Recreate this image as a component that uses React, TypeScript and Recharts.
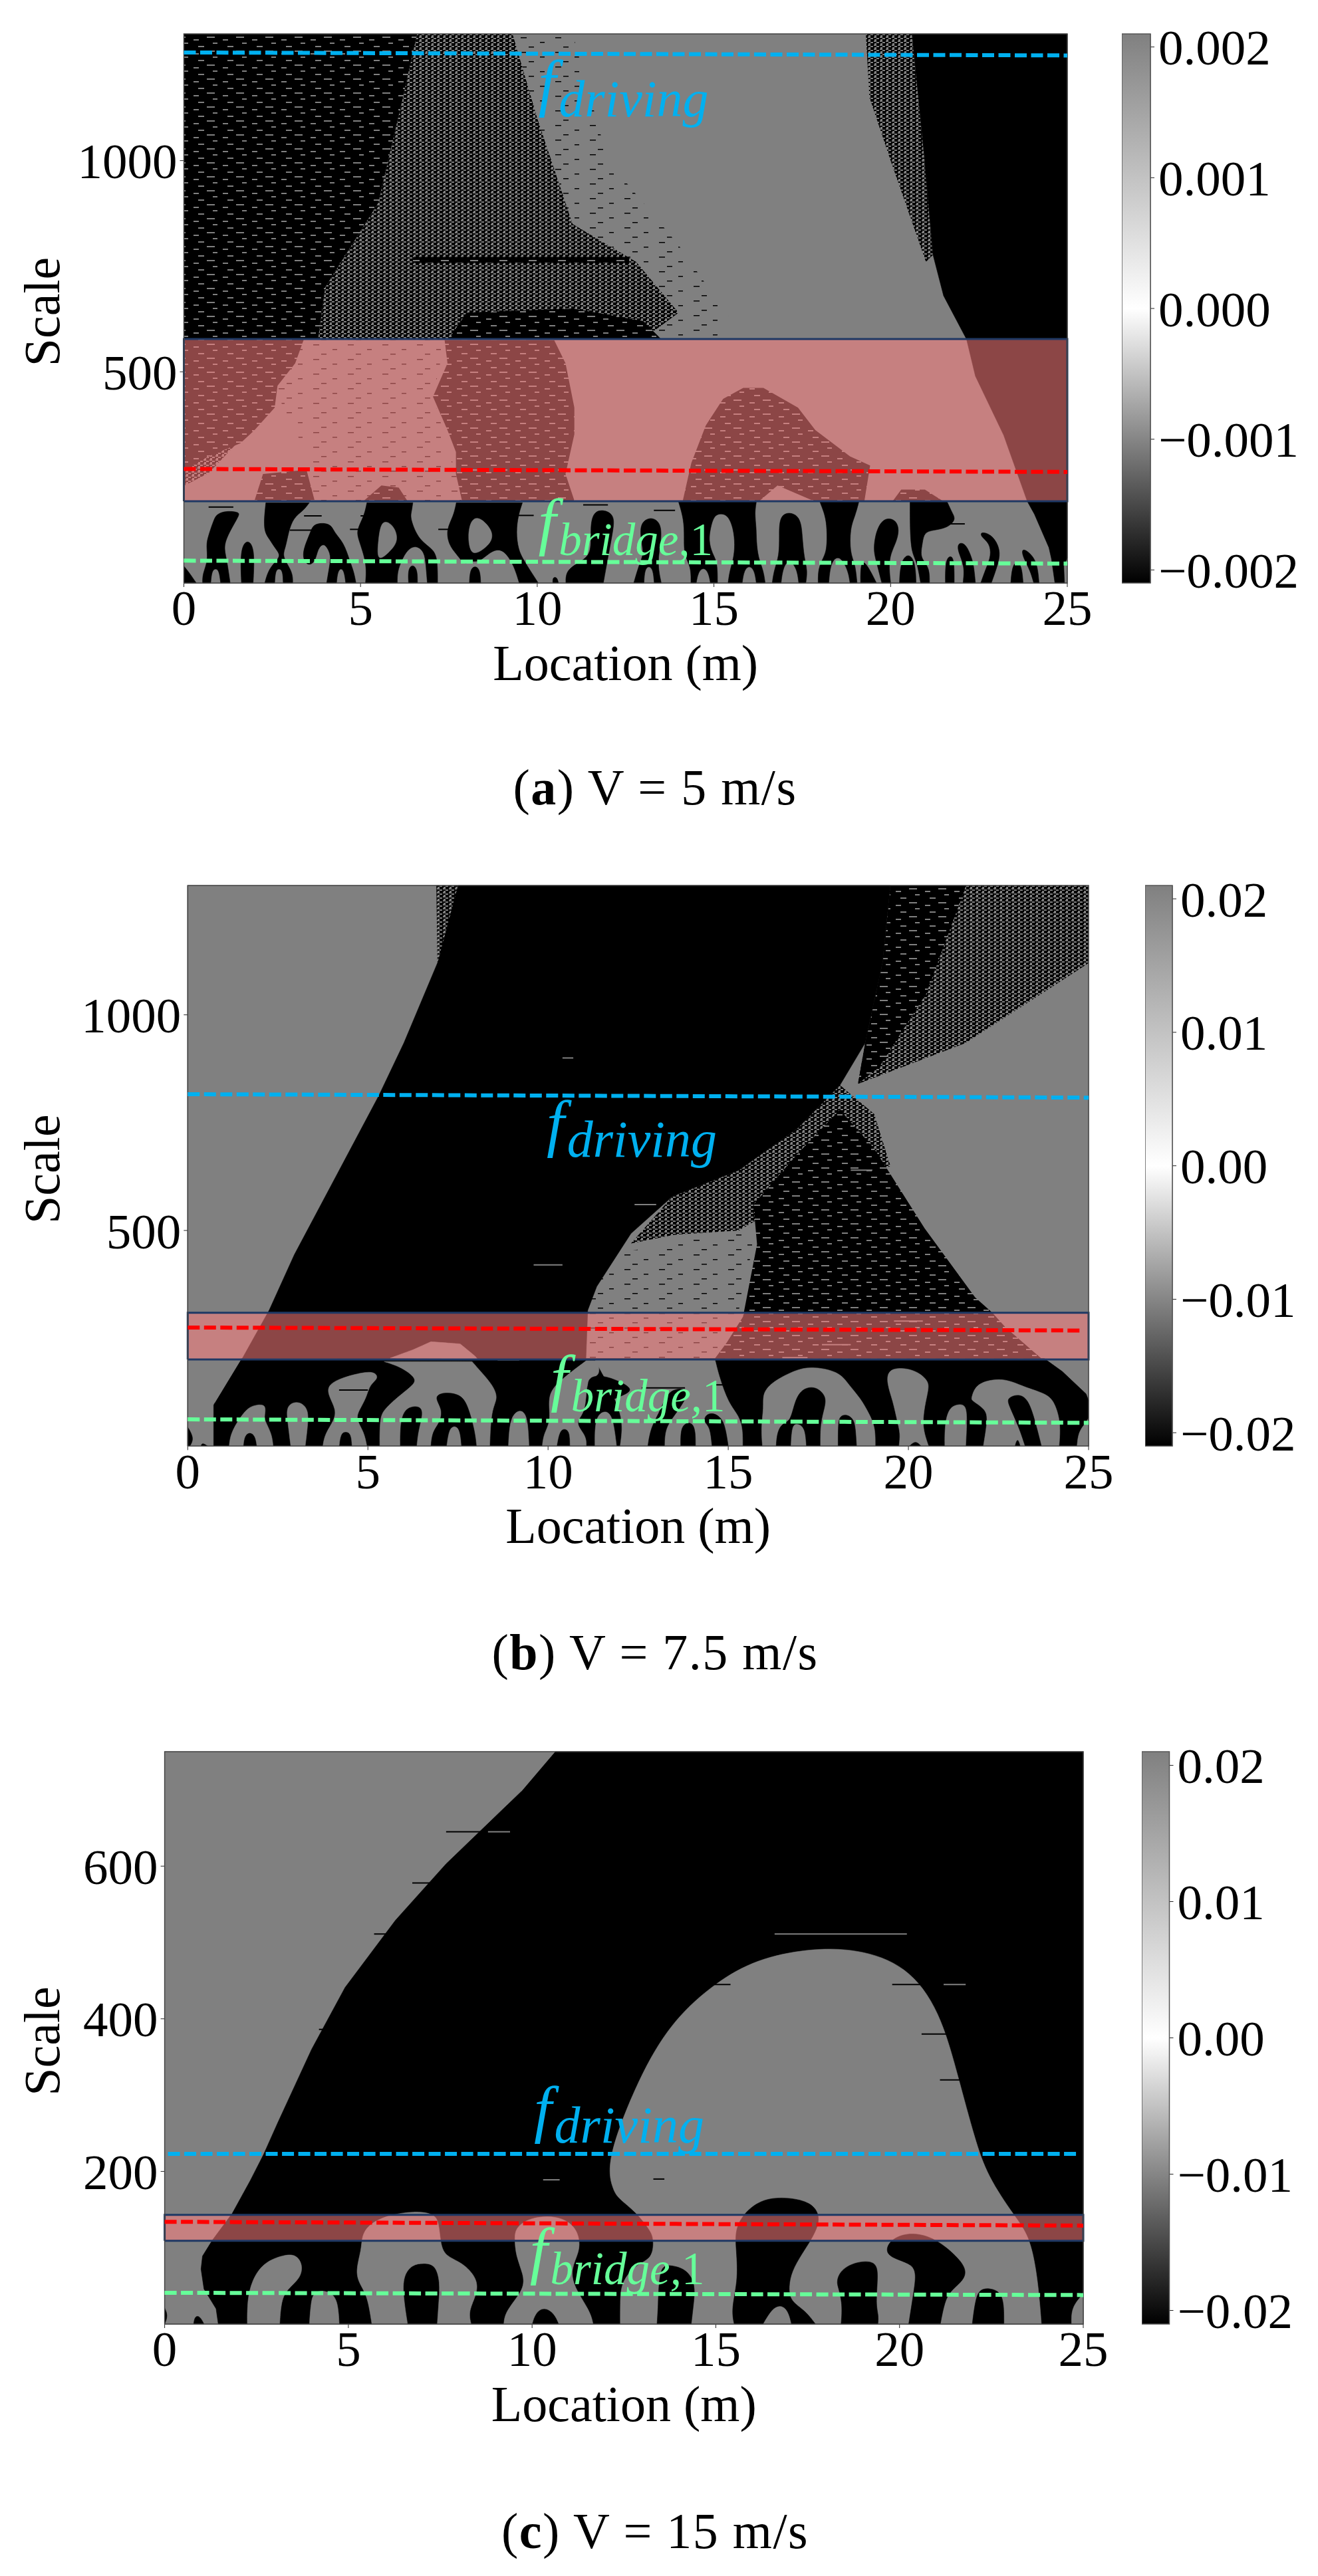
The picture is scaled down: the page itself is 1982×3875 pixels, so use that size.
import {
  ComposedChart, Scatter, XAxis, YAxis,
} from 'recharts';

type Pt = [number, number];
type Streak = [number, number, number]; // from location, to location, scale

const LOCATION_TICKS = [0, 5, 10, 15, 20, 25];
const SCALE_TICKS_AB = [500, 1000];
const SCALE_TICKS_C = [200, 400, 600];
const BAR_TICKS_A = [-0.002, -0.001, 0, 0.001, 0.002];
const BAR_TICKS_BC = [-0.02, -0.01, 0, 0.01, 0.02];

// ---- panel (a) V = 5 m/s, outlines as [location, scale]
const A_LIGHT: Pt[][] = [
  [[9.3,1300],[11,1300],[12,1000],[14,800],[15.5,620],[15,578],[13,578],[14,640],[12.8,760],[11,850],[10,1100]],
  [[3.4,578],[7.4,578],[7.05,441],[7.7,258],[7.87,195],[2,195],[3.7,268],[2.5,470]],
];
const A_MID: Pt[][] = [
  [[6.6,1300],[9.3,1300],[10,1100],[11,850],[12.8,760],[14,640],[13,578],[3.8,578],[4,700],[5.5,900],[6.2,1150]],
  [[19.3,1300],[20.6,1300],[20.96,1000],[21.2,777],[21,760],[20,1000],[19.4,1150]],
  [[0,420],[1.5,331],[0.7,260],[0,230]],
];
const A_DARK: Pt[][] = [
  [[0,1300],[6.6,1300],[6.2,1150],[5.5,900],[4,700],[3.8,578],[0,578]],
  [[7.5,578],[8,640],[11,650],[13,620],[13.5,578]],
  [[6.5,772],[12.6,772],[12.6,758],[6.5,758]],
  [[0,578],[3.4,578],[3.15,520],[2.65,467],[2.57,415],[2,362],[1.6,331],[0.7,300],[0,268]],
  [[7.38,575],[10.48,575],[10.8,520],[11.05,415],[11.05,352],[10.8,258],[11.05,195],[7.87,195],[7.7,258],[7.7,310],[7.46,362],[7.05,441],[7.46,520]],
  [[2.24,258],[3.47,268],[3.7,195],[2,195]],
  [[5.59,231],[6.08,226],[6.32,195],[5.1,195]],
  [[15.83,462],[16.4,462],[17.38,415],[17.87,362],[18.85,300],[19.42,278],[19.26,195],[17.8,195],[16.8,231],[16.3,195],[14.12,195],[14.36,284],[14.77,373],[15.26,436]],
  [[20.3,221],[20.97,221],[21.46,195],[20.07,195]],
];
const A_BLACK: Pt[][] = [
  [[0,40],[0.15,25],[0.35,0],[0,0]],
  [[0.94,163],[1.18,171],[1.59,168],[1.55,158],[1.18,105],[1.14,79],[1.22,53],[1.31,0],[1.04,0],[1,29],[0.9,35],[0.79,29],[0.76,0],[0.53,0],[0.53,22],[0.69,53],[0.63,90],[0.69,111],[0.86,153]],
  [[1.63,0],[1.59,79],[1.79,105],[2.01,84],[1.96,0]],
  [[2.32,190],[3.55,190],[3.38,171],[3.1,155],[2.96,121],[2.88,84],[2.77,63],[3.08,27],[3.08,0],[2.81,0],[2.8,29],[2.69,35],[2.59,29],[2.57,0],[2.29,0],[2.41,37],[2.77,63],[2.61,79],[2.41,105],[2.24,126]],
  [[3.67,142],[4.16,142],[4.24,121],[4.53,95],[4.69,53],[4.81,27],[4.87,0],[4.58,0],[4.54,27],[4.45,36],[4.35,27],[4.32,0],[4.04,0],[4.14,48],[4.16,69],[3.96,98],[3.78,79],[3.73,53],[3.55,40],[3.38,53],[3.37,79],[3.59,121]],
  [[5.18,190],[6.48,190],[6.44,168],[6.4,153],[6.65,100],[7.1,79],[7.18,48],[7.18,0],[6.89,0],[6.85,42],[6.81,74],[6.57,90],[6.32,79],[6.16,53],[6.04,27],[6.04,0],[5.14,0],[5.18,48],[4.93,105],[4.89,126],[5.1,158]],
  [[7.71,190],[9.58,190],[9.46,160],[9.4,121],[9.46,79],[9.62,53],[10.03,0],[9.49,0],[9.34,42],[9.09,74],[8.89,80],[8.69,74],[8.44,56],[8.28,50],[8.08,53],[7.95,42],[7.71,69],[7.5,90],[7.42,126],[7.63,158]],
  [[8.08,0],[8.1,32],[8.24,41],[8.38,32],[8.4,0]],
  [[11.58,178],[12.2,168],[12.15,126],[12.03,74],[11.87,0],[10.81,0],[10.81,32],[11.3,53],[11.54,74],[11.5,126]],
  [[10.44,0],[10.44,14],[10.56,14],[10.6,0]],
  [[12.9,142],[13.22,158],[13.51,142],[13.51,100],[13.39,48],[13.51,0],[13.31,0],[13.28,32],[13.16,41],[13.04,32],[13.02,0],[12.73,0],[12.9,48],[13.02,69],[12.94,100]],
  [[14.0,192],[16.2,192],[16.15,165],[16.2,130],[16.2,100],[16.25,60],[16.4,30],[16.45,0],[16.2,0],[16.15,30],[16.0,42],[15.85,30],[15.8,0],[15.4,0],[15.45,30],[15.55,55],[15.6,90],[15.55,130],[15.4,160],[15.2,165],[15.0,160],[14.9,130],[14.85,100],[14.95,70],[15.1,50],[15.1,0],[14.9,0],[14.85,25],[14.7,38],[14.55,25],[14.5,0],[14.35,0],[14.35,40],[14.15,65],[14.16,110],[14.15,150]],
  [[16.85,170],[17.45,165],[17.5,110],[17.55,60],[17.65,30],[17.6,0],[17.4,0],[17.35,35],[17.12,58],[16.95,35],[16.9,0],[16.65,0],[16.7,30],[16.85,65],[16.85,110]],
  [[18.0,192],[19.1,192],[19.0,160],[18.85,130],[18.85,70],[19.0,45],[19.05,0],[18.85,0],[18.8,30],[18.55,68],[18.3,50],[18.25,0],[17.95,0],[17.95,35],[18.1,60],[18.2,80],[18.2,130],[18.15,160]],
  [[19.15,0],[19.15,50],[19.3,50],[19.6,0]],
  [[19.85,155],[20.15,150],[20.25,125],[20.15,95],[20.0,70],[19.95,40],[20.0,0],[19.75,0],[19.6,50],[19.52,75],[19.55,105],[19.65,135]],
  [[20.25,0],[20.28,50],[20.5,72],[20.7,50],[20.72,0]],
  [[20.55,192],[21.6,192],[21.75,165],[21.85,150],[21.6,130],[21.2,125],[20.95,120],[20.9,95],[20.85,70],[20.9,55],[21.1,35],[21.1,0],[20.85,0],[20.75,50],[20.6,70],[20.55,120]],
  [[21.55,0],[21.55,55],[21.7,66],[21.8,55],[21.8,0]],
  [[21.9,95],[22.1,95],[22.25,70],[22.35,45],[22.4,0],[22.05,0],[22.1,40],[21.9,75]],
  [[22.55,122],[22.85,115],[23.05,90],[23.1,65],[23,35],[22.85,0],[22.55,0],[22.7,35],[22.85,65],[22.8,95],[22.55,110]],
  [[23.7,82],[23.9,75],[24.15,50],[24.2,0],[24.05,0],[23.95,30],[23.75,60]],
  [[23.4,0],[23.45,50],[23.7,50],[23.75,0]],
];
const A_BLACK_RIGHT: Pt[][] = [
  [[20.6,1300],[25,1300],[25,60],[24.9,40],[24.92,0],[24.65,0],[24.55,58],[24.48,84],[24.07,163],[23.87,193],[23.2,350],[22.4,490],[22.15,577],[21.5,680],[21.2,777],[20.96,1000]],
];
const A_GRAY_OVER: Pt[][] = [
  [[5.59,153],[5.95,137],[6.08,100],[5.83,74],[5.46,48],[5.5,100]],
  [[8.36,158],[8.73,126],[8.73,100],[8.48,79],[8.12,63],[8.03,111],[8.12,150]],
];
const A_BLACK_OVER: Pt[][] = [
  [[6.36,0],[6.34,32],[6.47,45],[6.61,32],[6.61,0]],
];
const A_STREAK_BLACK: Streak[] = [
  [3.4,3.9,159],[5,5.5,159],[9.4,9.9,160],[7.2,7.7,127],[4.7,5.2,127],[3,3.7,125],[0.7,1.4,180],[11.3,12,185],[13.3,13.9,172],[21.5,22.1,140],
];
const A_BAND: Pt = [193.6, 577.6];
const A_DRIVING: Pt[] = [[0,1256],[25,1249]];
const A_MODE: Pt[] = [[0,270],[25,263]];
const A_BRIDGE: Pt[] = [[0,53],[25,46]];

// ---- panel (b) V = 7.5 m/s
const B_LIGHT: Pt[][] = [
  [[11.5,440],[15.3,500],[15.7,470],[15,203],[11.1,203],[11.1,315]],
];
const B_MID: Pt[][] = [
  [[19.5,1300],[25,1300],[25,1120],[21.6,935],[18.6,840],[18.8,935],[19.28,1120]],
  [[6.9,1300],[8.4,1300],[7.6,1150],[7.0,1050],[6.93,1120]],
  [[13.45,579],[15.3,640],[16.95,739],[18.1,837],[19.05,770],[19.5,650],[18.5,600],[16.5,560],[15.3,500],[13.5,490],[12.3,470]],
];
const B_DARK: Pt[][] = [
  [[19.5,1300],[21.6,1300],[20.5,1050],[19.2,880],[18.6,840],[18.8,935],[19.28,1120]],
  [[18.1,780],[19.05,690],[20.45,505],[21.85,345],[22.33,309],[22.7,275],[23.69,203],[14.63,203],[14.96,240],[15.41,300],[15.8,468],[15.7,560],[16.95,680]],
];
const B_BLACK: Pt[][] = [
  [[7.5,1300],[19.5,1300],[19.28,1120],[18.8,935],[18.1,837],[16.95,739],[15.3,640],[13.45,579],[12.3,493],[11.35,370],[11.1,315],[11.05,203],[1.52,204],[2.26,315],[2.96,444],[4.13,628],[5.3,812],[6,935],[6.93,1120]],
  [[1.5,203],[23.77,203],[24.27,173],[24.93,121],[25,106],[25,0],[0.72,0],[0.72,95],[0.75,100]],
];
const B_GRAY_OVER: Pt[][] = [
  [[5.62,204],[6.27,224],[6.75,242],[7.56,237],[7.97,209],[8.05,201]],
  [[1.15,0],[1.19,29],[1.44,65],[1.68,90],[1.92,96],[2.18,96],[2.13,70],[2.13,60],[2.33,29],[2.37,0],[1.92,0],[1.88,24],[1.72,34],[1.57,24],[1.54,0]],
  [[2.86,0],[2.78,54],[2.73,90],[2.94,103],[3.18,100],[3.34,83],[3.34,54],[3.26,0]],
  [[3.75,0],[3.81,29],[4.07,60],[4.12,85],[3.91,116],[3.87,142],[4.32,160],[4.97,173],[5.21,170],[5.29,157],[5.05,142],[4.97,116],[4.81,90],[4.64,65],[4.89,34],[4.97,0],[4.56,0],[4.54,29],[4.38,35],[4.24,29],[4.2,0]],
  [[5.33,0],[5.33,65],[5.45,85],[5.86,116],[6.27,142],[6.35,157],[5.94,183],[5.45,196],[7.89,196],[8.13,173],[8.46,142],[8.62,111],[8.42,85],[8.38,0]],
  [[8.9,0],[8.94,65],[9.19,86],[9.43,75],[9.47,0]],
  [[9.84,0],[9.88,29],[10.1,60],[9.96,121],[10.4,157],[11.06,198],[11.38,198],[11.46,162],[11.1,157],[11.06,121],[11.01,75],[10.73,54],[11.06,24],[11.06,0],[10.61,0],[10.61,34],[10.45,42],[10.31,34],[10.24,0]],
  [[11.3,0],[11.3,65],[11.54,83],[11.79,75],[11.9,0]],
  [[12.0,0],[12.1,60],[11.8,120],[11.6,155],[11.46,175],[11.3,201],[14.63,201],[14.75,160],[15,100],[15.3,70],[15.4,40],[15.4,0]],
  [[15.95,0],[15.91,44],[15.99,90],[15.95,121],[16.19,147],[16.77,173],[17.27,186],[18.09,173],[18.34,142],[18.67,111],[18.91,75],[19.08,44],[19.08,0]],
  [[19.41,183],[20.15,180],[20.56,152],[20.56,132],[20.44,90],[20.4,54],[20.44,29],[20.56,0],[19.74,0],[19.78,29],[19.7,54],[19.57,106],[19.41,142]],
  [[21.01,0],[21.01,54],[21.14,90],[21.38,97],[21.59,96],[21.63,65],[21.59,0]],
  [[21.75,111],[21.84,137],[22.13,152],[22.7,157],[23.2,137],[23.85,121],[24.06,101],[24.23,54],[24.18,0],[22.08,0],[22.2,60],[22.16,85],[21.75,106]],
  [[24.68,0],[24.72,34],[24.93,54],[25,65],[25,0]],
];
const B_BLACK_OVER: Pt[][] = [
  [[0,44],[0.18,18],[0.06,0],[0,0]],
  [[0.4,8],[0.55,0],[0.37,0]],
  [[5.9,0],[5.9,54],[6.02,85],[6.27,93],[6.49,90],[6.51,70],[6.39,34],[6.35,0]],
  [[7.08,125],[7.56,121],[7.77,96],[7.97,34],[8.01,0],[7.6,0],[7.56,39],[7.4,49],[7.24,39],[7.18,0],[6.75,0],[6.79,34],[7,54],[7.08,85],[6.83,114]],
  [[11.1,160],[11.5,165],[12,150],[12.4,130],[12.0,115],[11.7,105],[11.45,100],[11.1,130]],
  [[12.77,0],[12.85,44],[13.14,85],[13.34,132],[13.87,135],[13.83,106],[13.39,60],[13.24,34],[13.23,0]],
  [[13.68,0],[13.68,39],[13.81,54],[14.01,54],[14.09,34],[14.09,0]],
  [[14.34,70],[14.55,79],[14.84,65],[14.94,34],[15,0],[14.55,0],[14.5,44],[14.34,54]],
  [[16.33,0],[16.36,34],[16.52,54],[16.73,57],[16.85,106],[17.06,134],[17.43,139],[17.72,116],[17.68,90],[17.55,54],[17.55,0],[17.17,0],[17.14,39],[16.98,52],[16.81,52],[16.75,34],[16.73,0]],
  [[18.05,0],[18.05,49],[18.09,70],[18.29,74],[18.5,62],[18.54,29],[18.56,0]],
  [[20.03,0],[20.2,13],[20.35,0]],
  [[22.74,111],[23.03,121],[23.32,111],[23.53,54],[23.69,0],[23.24,0],[23.07,44],[22.78,96]],
  [[22.96,0],[23.03,20],[23.1,0]],
];
const B_STREAK_BLACK: Streak[] = [
  [5.5,6.2,600],[4.6,5.3,690],[3.6,4.2,510],[2.9,3.5,390],[5.9,6.6,880],[6.5,7.1,1010],[7.2,7.8,1210],[8,9,1280],
  [12.6,13.8,135],[14.6,15.1,142],[4.2,5,130],[9.3,10,130],[14.8,15.4,160],
];
const B_STREAK_GRAY: Streak[] = [
  [9.6,10.4,420],[12.4,13,560],[8.6,9.2,200],[16.5,17.2,205],[17.6,18.4,235],[19.6,20.4,290],[10.4,10.7,900],[18.4,19,640],
];
const B_BAND: Pt = [201, 309];
const B_DRIVING: Pt[] = [[0,816],[25,808]];
const B_MODE: Pt[] = [[0,275],[24.8,268]];
const B_BRIDGE: Pt[] = [[0,62],[25,54]];

// ---- panel (c) V = 15 m/s
const C_BLACK: Pt[][] = [
  [[10.63,750],[25,750],[25,0],[1.46,0],[1.4,20],[1.07,46],[0.99,72],[1.03,89],[1.3,110],[1.84,145],[2.33,188],[2.69,222],[3.08,264],[4,360],[4.91,441],[6.28,529],[7.66,603],[9.71,698]],
];
const C_GRAY_OVER: Pt[][] = [
  [[12,213],[12.9,323],[13.8,397],[15,448],[16.1,478],[17.5,492],[18.85,492],[20.2,470],[21.1,411],[21.6,323],[22.05,242],[22.39,194],[23.12,142],[23.53,116],[23.73,69],[23.82,26],[23.86,0],[12.4,0],[12.4,28],[12.42,55],[12.83,78],[13.28,86],[13.31,110],[13.25,121],[12.83,147],[12.34,165],[12.2,176]],
  [[2.25,0],[2.25,31],[2.37,57],[2.69,81],[3.26,91],[3.58,91],[3.76,78],[3.7,60],[3.34,46],[3.17,31],[3.13,0]],
  [[3.94,0],[3.98,28],[4.06,43],[4.43,44],[4.71,34],[4.75,0]],
  [[5.64,0],[5.52,37],[5.31,52],[5.19,69],[5.36,98],[5.36,113],[5.52,130],[6.08,143],[6.81,148],[7.29,145],[7.46,136],[7.5,107],[7.62,89],[8.1,81],[8.51,60],[8.51,40],[8.26,17],[8.34,0],[7.42,0],[7.46,28],[7.5,55],[7.37,78],[7.05,80],[6.73,78],[6.49,63],[6.49,37],[6.61,0]],
  [[9.23,0],[9.27,17],[9.8,46],[9.76,66],[9.56,89],[9.52,113],[9.56,127],[9.96,140],[10.69,142],[11.13,130],[11.29,113],[11.29,95],[11.05,72],[11.13,49],[11.58,17],[11.66,0],[10.73,0],[10.61,14],[10.32,23],[10.08,14],[10,0]],
  [[24.68,0],[24.68,20],[24.89,34],[25,39],[25,0]],
];
const C_BLACK_OVER: Pt[][] = [
  [[0,21],[0.09,11],[0,0]],
  [[0.79,0],[0.82,10],[0.95,11],[1.07,0]],
  [[13.4,0],[13.43,20],[13.46,75],[13.73,78],[14.21,72],[14.45,52],[14.39,25],[14.33,0]],
  [[15.5,0],[15.42,20],[15.62,60],[15.54,104],[15.54,124],[15.75,145],[16.28,165],[17.02,166],[17.59,159],[17.8,145],[17.8,130],[17.59,110],[17.34,92],[17.06,69],[16.98,49],[17.02,30],[17.43,18],[17.71,0],[17.06,0],[16.98,17],[16.77,26],[16.52,20],[16.28,0]],
  [[18.29,55],[18.37,69],[18.74,81],[19.39,84],[19.41,60],[19.35,26],[19.43,11],[19.41,0],[18.41,0],[18.45,26],[18.33,49]],
  [[19.6,92],[19.72,110],[20.21,120],[20.79,116],[21.28,101],[21.77,78],[21.81,63],[21.61,52],[21.32,40],[21.2,23],[21.11,0],[20.25,0],[20.38,40],[20.46,66],[20.34,78],[19.97,84]],
  [[21.98,0],[22.06,31],[22.18,46],[22.47,47],[22.75,42],[22.84,26],[22.84,0]],
];
const C_STREAK_BLACK: Streak[] = [
  [7.66,8.8,645],[6.74,8.2,578],[5.7,6.4,511],[4.2,5.4,386],[3.65,4.6,319],[13.8,15.4,445],[19.8,21.2,445],[20.6,21.6,380],[12.8,13.25,380],[21.1,21.8,320],[13.3,13.6,190],
];
const C_STREAK_GRAY: Streak[] = [
  [16.6,20.2,511],[10.3,10.75,189],[8.8,9.4,645],[21.2,21.8,445],
];
const C_BAND: Pt = [109, 143];
const C_DRIVING: Pt[] = [[0.09,223],[24.84,223]];
const C_MODE: Pt[] = [[0,134],[25,129]];
const C_BRIDGE: Pt[] = [[0,41],[25,38]];

const FONT = '"Liberation Serif", serif';
const GRAY = '#808080';

const NoDot = () => <g />;

// a closed outline, its vertices placed by the chart's own scales
function outline(points: Pt[], line: any, key: string, joint: string = 'linear') {
  return (
    <Scatter
      key={key}
      data={points.map(([x, y]) => ({ x, y }))}
      line={line}
      lineJointType={joint as any}
      shape={NoDot}
      legendType="none"
      isAnimationActive={false}
    />
  );
}

function solid(points: Pt[], fill: string, key: string) {
  return outline(points, { fill, stroke: fill.startsWith('url') ? 'none' : fill, strokeWidth: 0.6 }, key);
}

// spline through the blob; vertices on the plot edge are repeated so they stay put
function blob(points: Pt[], fill: string, key: string, pinAbove: number) {
  const pts = points.flatMap((p): Pt[] =>
    p[1] <= 0 || p[0] <= 0 || p[0] >= 25 || p[1] >= pinAbove ? [p, p, p] : [p]);
  return outline(pts, { fill, stroke: fill, strokeWidth: 0.6 }, key, 'basisClosed');
}

function streaks(list: Streak[] | undefined, color: string, key: string) {
  return (list || []).map(([a, b, y], i) => (
    outline([[a, y], [b, y]], { stroke: color, strokeWidth: 2, fill: 'none' }, `${key}${i}`)
  ));
}

function dashed(points: Pt[], color: string, key: string) {
  return outline(points, { stroke: color, strokeWidth: 6, strokeDasharray: '18 6.5', fill: 'none' }, key);
}

function freqLabel(at: Pt, sub: string, color: string, key: string, subSize: number) {
  const comma = sub.indexOf(',');
  const head = comma < 0 ? sub : sub.slice(0, comma + 1);
  const tail = comma < 0 ? '' : sub.slice(comma + 1);
  return (
    <Scatter
      key={key}
      data={[{ x: at[0], y: at[1] }]}
      legendType="none"
      isAnimationActive={false}
      shape={(p: any) => (
        <text x={p.cx} y={p.cy} fill={color} fontFamily={FONT} fontStyle="italic" style={{ fontSize: 96 }}>
          <tspan dy={-18}>f</tspan>
          <tspan dy={18} dx={4} style={{ fontSize: subSize }}>{head}</tspan>
          <tspan style={{ fontSize: subSize, fontStyle: 'normal' }}>{tail}</tspan>
        </text>
      )}
    />
  );
}

function Panel({ left, top, right, bottom, domainTop, scaleTicks, layers, streakBlack, streakGray, band, driving, mode, bridge, drivingAt, bridgeAt, pinAbove }: any) {
  const chartW = right + 60;
  const chartH = bottom + 210 - top + 20;
  const yW = 200;
  const box = (y0: number, y1: number): Pt[] => [[0, y0], [25, y0], [25, y1], [0, y1], [0, y0]];
  return (
    <div style={{ position: 'absolute', left: 0, top: top - 20 }}>
      <ComposedChart
        width={chartW}
        height={chartH}
        margin={{ top: 20, left: left - yW, right: chartW - right, bottom: 110 }}
      >
        <XAxis
          dataKey="x"
          type="number"
          domain={[0, 25]}
          ticks={LOCATION_TICKS}
          interval={0}
          tickSize={6}
          height={100}
          stroke="#222"
          tick={{ fontFamily: FONT, fontSize: 75, fill: '#000' }}
          tickMargin={4}
          label={{ value: 'Location (m)', position: 'bottom', offset: -8, style: { fontFamily: FONT, fontSize: 76, fill: '#000' } }}
        />
        <YAxis
          dataKey="y"
          type="number"
          domain={[0, domainTop]}
          ticks={scaleTicks}
          interval={0}
          width={yW}
          tickSize={6}
          stroke="#222"
          tick={{ fontFamily: FONT, fontSize: 75, fill: '#000' }}
          tickMargin={4}
          label={{ value: 'Scale', angle: -90, position: 'insideLeft', offset: 262.5 - left, dy: 5, style: { fontFamily: FONT, fontSize: 76, fill: '#000', textAnchor: 'middle' } }}
        />
        {solid(box(0, domainTop), GRAY, 'bg')}
        {layers.flatMap((l: any, i: number) => l.polys.map((p: Pt[], j: number) => (
          l.smooth ? blob(p, l.fill, `l${i}-${j}`, pinAbove) : solid(p, l.fill, `l${i}-${j}`)
        )))}
        {streaks(streakBlack, '#000', 'sb')}
        {streaks(streakGray, GRAY, 'sg')}
        {outline(box(band[0], band[1]), { fill: '#FF7F7F', fillOpacity: 0.55, stroke: '#1F3864', strokeWidth: 3 }, 'band')}
        {outline(box(0, domainTop), { fill: 'none', stroke: '#444', strokeWidth: 1.5 }, 'frame')}
        {dashed(driving, '#00B0F0', 'driving')}
        {dashed(mode, '#FF0000', 'mode')}
        {dashed(bridge, '#66FF99', 'bridge')}
        {freqLabel(drivingAt, 'driving', '#00B0F0', 'ld', 78)}
        {freqLabel(bridgeAt, 'bridge,1', '#66FF99', 'lb', 69)}
      </ComposedChart>
    </div>
  );
}

function ColorBar({ left, right, top, bottom, limit, ticks, digits }: any) {
  const w = 300;
  const h = bottom - top + 80;
  const corners: Pt[] = [[0, -limit], [1, -limit], [1, limit], [0, limit], [0, -limit]];
  return (
    <div style={{ position: 'absolute', left, top: top - 40 }}>
      <ComposedChart width={w} height={h} margin={{ top: 40, bottom: 40, left: 0, right: w - (right - left) - 220 }}>
        <XAxis dataKey="x" type="number" domain={[0, 1]} hide />
        <YAxis
          dataKey="y"
          type="number"
          orientation="right"
          domain={[-limit, limit]}
          ticks={ticks}
          interval={0}
          width={220}
          tickSize={6}
          stroke="#222"
          tickMargin={6}
          tick={{ fontFamily: FONT, fontSize: 75, fill: '#000' }}
          tickFormatter={(v: number) => (v < 0 ? '\u2212' : '') + Math.abs(v).toFixed(digits)}
        />
        {outline(corners, { fill: 'url(#barRamp)', stroke: '#555', strokeWidth: 1.5 }, 'ramp')}
      </ComposedChart>
    </div>
  );
}

function Caption({ tag, text, y }: { tag: string; text: string; y: number }) {
  return (
    <div style={{ position: 'absolute', left: 0, width: 1970, top: y - 50, textAlign: 'center', fontFamily: FONT, fontSize: 76, lineHeight: '100px', letterSpacing: 1.5, color: '#000' }}>
      (<b>{tag}</b>) {text}
    </div>
  );
}

export default function App() {
  return (
    <div style={{ position: 'absolute', left: 0, top: 0, width: 1982, height: 3875, background: '#fff', overflow: 'hidden' }}>
      <svg width={0} height={0} style={{ position: 'absolute' }}>
        <defs>
          <linearGradient id="barRamp" x1="0" y1="0" x2="0" y2="1">
            <stop offset="0" stopColor="#808080" />
            <stop offset="0.5" stopColor="#ffffff" />
            <stop offset="1" stopColor="#000000" />
          </linearGradient>
          <pattern id="noiseDark" width="44" height="21" patternUnits="userSpaceOnUse">
            <rect width="44" height="21" fill="#000" />
            <rect x="3" y="3" width="12" height="2" fill={GRAY} />
            <rect x="27" y="7" width="8" height="2" fill={GRAY} />
            <rect x="12" y="12" width="7" height="2" fill={GRAY} />
            <rect x="34" y="17" width="9" height="2" fill={GRAY} />
          </pattern>
          <pattern id="noiseMid" width="9" height="6" patternUnits="userSpaceOnUse">
            <rect width="9" height="6" fill="#000" />
            <rect x="0" y="0" width="4" height="2" fill={GRAY} />
            <rect x="4" y="2" width="4" height="2" fill={GRAY} />
            <rect x="1" y="4" width="3" height="2" fill={GRAY} />
          </pattern>
          <pattern id="noiseLight" width="52" height="22" patternUnits="userSpaceOnUse">
            <rect x="3" y="3" width="9" height="1.5" fill="#000" />
            <rect x="32" y="10" width="7" height="1.5" fill="#000" />
            <rect x="15" y="17" width="8" height="1.5" fill="#000" />
          </pattern>
        </defs>
      </svg>

      <Panel
        left={276.5} right={1605} top={51} bottom={877} domainTop={1300} scaleTicks={SCALE_TICKS_AB} pinAbove={188}
        layers={[
          { fill: 'url(#noiseLight)', polys: A_LIGHT },
          { fill: 'url(#noiseMid)', polys: A_MID },
          { fill: 'url(#noiseDark)', polys: A_DARK },
          { fill: '#000', polys: A_BLACK, smooth: true },
          { fill: '#000', polys: A_BLACK_RIGHT },
          { fill: GRAY, polys: A_GRAY_OVER, smooth: true },
          { fill: '#000', polys: A_BLACK_OVER, smooth: true },
        ]}
        streakBlack={A_STREAK_BLACK}
        band={A_BAND} driving={A_DRIVING} mode={A_MODE} bridge={A_BRIDGE}
        drivingAt={[10.03, 1105]} bridgeAt={[10.03, 66]}
      />
      <ColorBar left={1687} right={1730} top={51} bottom={877} limit={0.0021} ticks={BAR_TICKS_A} digits={3} />
      <Caption tag="a" text="V = 5 m/s" y={1184} />

      <Panel
        left={282.3} right={1637} top={1332} bottom={2175.3} domainTop={1300} scaleTicks={SCALE_TICKS_AB} pinAbove={196}
        layers={[
          { fill: 'url(#noiseLight)', polys: B_LIGHT },
          { fill: 'url(#noiseMid)', polys: B_MID },
          { fill: 'url(#noiseDark)', polys: B_DARK },
          { fill: '#000', polys: B_BLACK },
          { fill: GRAY, polys: B_GRAY_OVER, smooth: true },
          { fill: '#000', polys: B_BLACK_OVER, smooth: true },
        ]}
        streakBlack={B_STREAK_BLACK} streakGray={B_STREAK_GRAY}
        band={B_BAND} driving={B_DRIVING} mode={B_MODE} bridge={B_BRIDGE}
        drivingAt={[9.96, 671]} bridgeAt={[10.07, 81]}
      />
      <ColorBar left={1722} right={1763} top={1332} bottom={2175.3} limit={0.021} ticks={BAR_TICKS_BC} digits={2} />
      <Caption tag="b" text="V = 7.5 m/s" y={2485} />

      <Panel
        left={247.6} right={1629} top={2635} bottom={3496} domainTop={750} scaleTicks={SCALE_TICKS_C} pinAbove={10000}
        layers={[
          { fill: '#000', polys: C_BLACK },
          { fill: GRAY, polys: C_GRAY_OVER, smooth: true },
          { fill: '#000', polys: C_BLACK_OVER, smooth: true },
        ]}
        streakBlack={C_STREAK_BLACK} streakGray={C_STREAK_GRAY}
        band={C_BAND} driving={C_DRIVING} mode={C_MODE} bridge={C_BRIDGE}
        drivingAt={[10.05, 238]} bridgeAt={[9.94, 52]}
      />
      <ColorBar left={1716.5} right={1758} top={2635} bottom={3496} limit={0.021} ticks={BAR_TICKS_BC} digits={2} />
      <Caption tag="c" text="V = 15 m/s" y={3807} />
    </div>
  );
}
